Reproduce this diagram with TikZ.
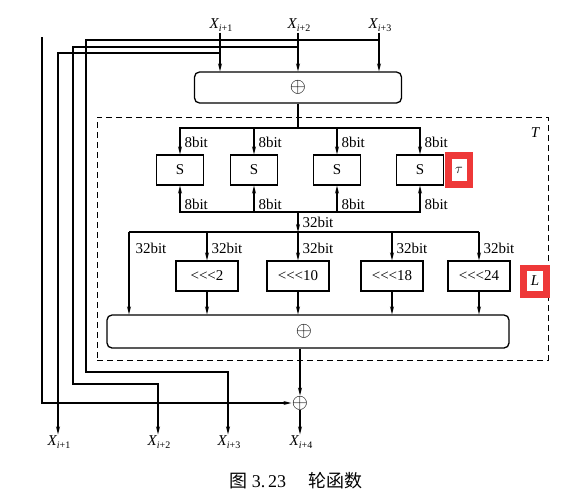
\documentclass[tikz,border=0pt]{standalone}
\usepackage{fontspec}
\setmainfont{Liberation Serif}[Ligatures=TeXOff]
\newfontfamily\cjk{Noto Sans CJK SC}
\usetikzlibrary{arrows.meta}
\definecolor{annot}{RGB}{238,56,56}
\newcommand{\Xsub}[1]{\textit{X}\kern-0.5pt\raisebox{-0.35ex}{\fontsize{10}{10}\selectfont\textit{i}+#1}}
\begin{document}
\begin{tikzpicture}[x=1pt,y=-1pt,
  line width=1.1pt,
  arr/.style={-{Stealth[length=8pt,width=4pt]}},
  lab/.style={font=\fontsize{15}{17}\selectfont, inner sep=1pt},
  bitlab/.style={font=\fontsize{15}{17}\selectfont, inner sep=0pt, anchor=west},
  sbox/.style={draw, line width=1.3pt, minimum width=47pt, minimum height=30pt, inner sep=0pt, font=\fontsize{15}{17}\selectfont},
  rbox/.style={draw, line width=1.3pt, minimum width=62pt, minimum height=30pt, inner sep=0pt, font=\fontsize{15}{17}\selectfont},
  xbox/.style={draw, line width=1.3pt, rounded corners=5pt, inner sep=0pt, font=\fontsize{21}{22}\selectfont},
  redbox/.style={fill=annot, inner sep=0pt},
  whitebox/.style={fill=white, inner sep=0pt, font=\fontsize{15}{17}\selectfont}
]
\useasboundingbox (0,0) rectangle (582,504);

% column coordinates
\coordinate (cx1) at (220,0);
\coordinate (cx2) at (298,0);
\coordinate (cx3) at (379,0);
\coordinate (e1) at (58,0);
\coordinate (e2) at (158,0);
\coordinate (e3) at (228,0);
\coordinate (e4) at (300,0);

% top inputs
\node[lab] (xi1) at (221,25) {\Xsub{1}};
\node[lab] (xi2) at (299,25) {\Xsub{2}};
\node[lab] (xi3) at (380,25) {\Xsub{3}};

% first xor box
\node[xbox, minimum width=207pt, minimum height=31pt] (xor1) at (298,87.5) {$\oplus$};

\draw[arr] (xi1.south -| cx1) -- (xor1.north -| cx1);
\draw[arr] (xi2.south -| cx2) -- (xor1.north -| cx2);
\draw[arr] (xi3.south -| cx3) -- (xor1.north -| cx3);

% outputs
\node[lab] (oi1) at (59,442) {\Xsub{1}};
\node[lab] (oi2) at (159,442) {\Xsub{2}};
\node[lab] (oi3) at (229,442) {\Xsub{3}};
\node[lab] (oi4) at (301,442) {\Xsub{4}};

% feedback wires
\coordinate (j1) at (220,53);
\coordinate (j2) at (298,47);
\coordinate (j3) at (379,40);
\coordinate (b2) at (73,384);
\coordinate (b3) at (86,372);
\coordinate (top0) at (42,37);
\draw[arr] (j1) -| (oi1.north -| e1);
\draw[arr] (j2) -| (b2) -| (oi2.north -| e2);
\draw[arr] (j3) -| (b3) -| (oi3.north -| e3);

% T dashed box
\node[draw, dash pattern=on 6pt off 4pt, line width=1pt, minimum width=451pt, minimum height=243pt, inner sep=0pt] (T) at (322.5,238.5) {};
\node[lab, font=\fontsize{15}{17}\selectfont\itshape] (Tl) at (535,133) {T};

% S boxes
\node[sbox] (s1) at (180,170) {S};
\node[sbox] (s2) at (254,170) {S};
\node[sbox] (s3) at (337,170) {S};
\node[sbox] (s4) at (420,170) {S};

\coordinate (sp) at (298,128);
\draw (xor1.south -| sp) -- (sp);
\foreach \i in {1,...,4} {
  \draw[arr] (sp) -| (s\i.north);
}
\node[bitlab] (t1) at (184,142) {8bit};
\node[bitlab] (t2) at (258,142) {8bit};
\node[bitlab] (t3) at (341,142) {8bit};
\node[bitlab] (t4) at (424,142) {8bit};

\coordinate (sb) at (298,212);
\foreach \i in {1,...,4} {
  \draw[arr] (sb) -| (s\i.south);
}
\node[bitlab] (u1) at (184,204) {8bit};
\node[bitlab] (u2) at (258,204) {8bit};
\node[bitlab] (u3) at (341,204) {8bit};
\node[bitlab] (u4) at (424,204) {8bit};

% tau annotation
\node[redbox, minimum width=28pt, minimum height=36pt] (taubox) at (459,170) {};
\node[whitebox, minimum width=15pt, minimum height=22pt] (tau) at (taubox) {$\tau$};

% 32bit distribution
\coordinate (rc) at (298,232);
\draw[arr] (sb) -- (rc);
\node[bitlab] (v0) at (302,222) {32bit};

\node[rbox] (r1) at (207,276) {<<<2};
\node[rbox] (r2) at (298,276) {<<<10};
\node[rbox] (r3) at (392,276) {<<<18};
\node[rbox] (r4) at (479,276) {<<<24};

\node[xbox, minimum width=402pt, minimum height=33pt] (xor2) at (308,331.5) {\hspace*{-8pt}$\oplus$};

\coordinate (lx) at (129,232);
\draw (lx) -- (r4.north |- rc);
\draw[arr] (lx) -- (lx |- xor2.north);
\foreach \i in {1,...,4} {
  \draw[arr] (r\i.north |- rc) -- (r\i.north);
  \draw[arr] (r\i.south) -- (r\i.south |- xor2.north);
}
\node[bitlab] (w0) at (135,248) {32bit};
\node[bitlab] (w1) at (211,248) {32bit};
\node[bitlab] (w2) at (302,248) {32bit};
\node[bitlab] (w3) at (396,248) {32bit};
\node[bitlab] (w4) at (483,248) {32bit};

% L annotation
\node[redbox, minimum width=30pt, minimum height=33pt] (Lbox) at (535,281) {};
\node[whitebox, minimum width=16pt, minimum height=20pt] (Ll) at (Lbox) {\textit{L}};

% final xor
\node[inner sep=0pt, font=\fontsize{21}{21}\selectfont] (xo) at (300,403) {$\oplus$};
\draw[arr] (xor2.south -| xo) -- (xo.north);
\draw[arr] (top0) |- (xo.west);
\draw[arr] (xo.south) -- (oi4.north -| e4);

% caption
\node[font=\fontsize{18}{20}\selectfont] (cap) at (296,481) {{\cjk 图}\ 3.\,23\quad\ {\cjk 轮函数}};
\end{tikzpicture}
\end{document}
